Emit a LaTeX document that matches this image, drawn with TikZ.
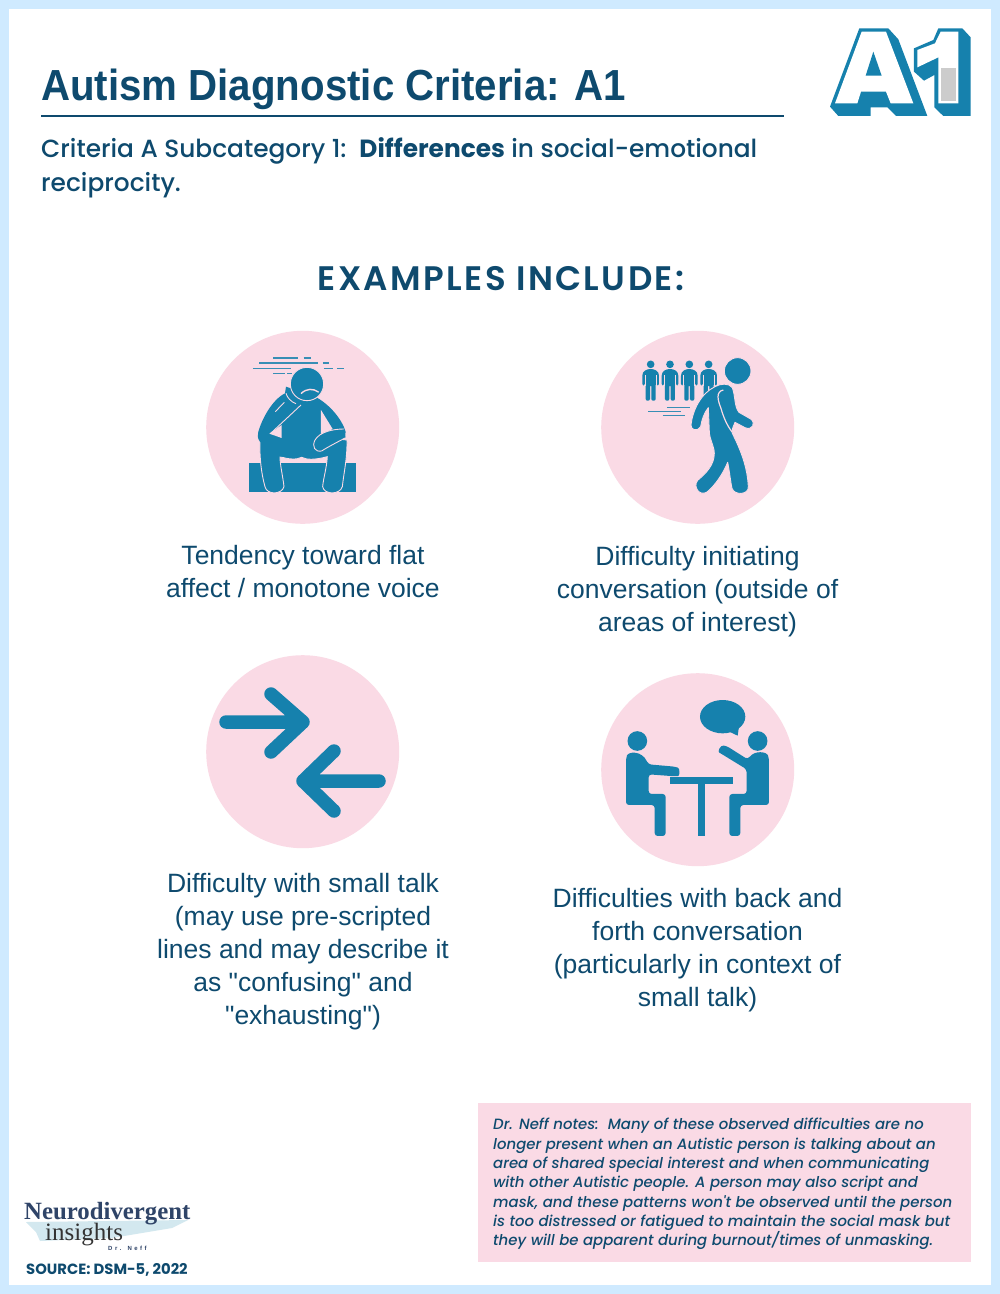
\documentclass[tikz,border=0pt]{standalone}
\usepackage{fontspec}
\setmainfont{Liberation Sans}
\newfontfamily\capf{Liberation Sans}
\newfontfamily\titlef{Liberation Sans}[FakeStretch=0.925]
\newfontfamily\popf{Poppins Medium}[BoldFont={Poppins Bold}]
\newfontfamily\pophead{Poppins SemiBold}[LetterSpace=7]
\newfontfamily\popnote{Poppins Medium Italic}
\newfontfamily\popsrc{Poppins Bold}
\newfontfamily\logof{Liberation Serif}
\definecolor{frame}{HTML}{CFEAFF}
\definecolor{navy}{HTML}{0E4A6E}
\definecolor{iconblue}{HTML}{1681AD}
\definecolor{pinkc}{HTML}{FADAE5}
\definecolor{brush}{HTML}{D3E8EF}
\definecolor{logonavy}{HTML}{2F4468}
\tikzset{
  x=1pt,y=-1pt,
  icon/.style={fill=iconblue,draw=none},
  cutline/.style={draw=pinkc,line width=.9pt,line join=round},
  cutfill/.style={fill=pinkc,draw=none},
  caption/.style={text=navy,align=center,inner sep=0pt,font=\capf\fontsize{26.5}{33}\selectfont},
  speed/.style={draw=iconblue,line width=1.2pt,opacity=.85},
  zoomed/.style={x=.3333pt,y=-.3333pt},
  disc/.style={fill=pinkc,draw=none},
}
\begin{document}
\begin{tikzpicture}
\useasboundingbox (0,0) rectangle (1000,1294);
\fill[frame] (0,0) rectangle (1000,1294);
\fill[white] (9,9) rectangle (991,1285);

% header
\node[anchor=base west,inner sep=0pt,text=navy,font=\titlef\fontsize{43.5}{44}\selectfont\bfseries] (title) at (41,100) {Autism Diagnostic Criteria: A1};
\coordinate (ruleL) at (41,116);
\coordinate (ruleR) at (784,116);
\draw[navy,line width=1.6pt] (ruleL) -- (ruleR);
\node[anchor=base west,inner sep=0pt,text=navy,font=\popf\fontsize{24.85}{24}\selectfont] (sub1) at (41,157) {Criteria A Subcategory 1:\ \ \textbf{Differences} in social-emotional};
\node[anchor=base west,inner sep=0pt,text=navy,font=\popf\fontsize{24.85}{24}\selectfont] (sub2) at (41,191) {reciprocity.};
\node[anchor=base,inner sep=0pt,text=navy,font=\pophead\fontsize{34}{34}\selectfont] (examples) at (501,290) {EXAMPLES INCLUDE:};

% A1 badge
\begin{scope}[shift={(800,10)},zoomed]
\fill[iconblue] (90,290)--(178,55)--(265,55)--(295,88)--(382,318)--(288,318)--(262,292)--(212,292)--(212,318)--(115,318)--cycle;
\fill[white] (105,280)--(185,65)--(258,65)--(340,280)--(272,280)--(258,245)--(183,245)--(172,280)--cycle;
\fill[iconblue] (220,125)--(197,197)--(245,197)--cycle;
\fill[iconblue] (342,115)--(400,90)--(415,55)--(487,55)--(512,82)--(512,318)--(430,318)--(403,292)--(403,195)--(372,212)--(342,185)--cycle;
\fill[white] (352,120)--(405,100)--(422,65)--(475,65)--(475,280)--(415,280)--(415,142)--(352,172)--cycle;
\fill[black!20] (422,173) rectangle (467,273);
\end{scope}

% discs
\fill[disc] (302.7,427.3) circle (96.5);
\fill[disc] (697.7,427.3) circle (96.5);
\fill[disc] (302.7,751.7) circle (96.5);
\fill[disc] (697.7,769.7) circle (96.5);

% icon 1: seated figure
\begin{scope}[shift={(200,325)},zoomed]
\fill[icon] (147,414) rectangle (469,500);
% legs and hips
\draw[cutline,fill=iconblue] (180,345) .. controls (178,400) and (185,450) .. (195,485) .. controls (200,510) and (245,510) .. (252,485) .. controls (248,450) and (240,420) .. (240,395) .. controls (265,403) and (290,405) .. (305,397) .. controls (320,405) and (345,405) .. (382,395) .. controls (380,430) and (370,460) .. (368,485) .. controls (372,510) and (420,510) .. (427,485) .. controls (432,440) and (442,400) .. (441,345) -- (300,330) -- cycle;
% torso and arms
\fill[icon] (175,320) .. controls (185,285) and (215,225) .. (255,205) -- (258,185) -- (345,215) .. controls (385,235) and (425,280) .. (437,320) .. controls (440,340) and (420,345) .. (400,352) -- (345,390) -- (240,395) -- (180,350) .. controls (172,340) and (172,330) .. (175,320) -- cycle;
\fill[cutfill] (208,326) -- (245,300) -- (245,339) -- cycle;
\fill[cutfill] (363,255) -- (398,312) -- (363,330) -- cycle;
% right hand on the knee
\draw[cutline,fill=iconblue] (432,312) .. controls (400,312) and (360,320) .. (345,345) .. controls (335,365) and (345,382) .. (365,378) .. controls (385,365) and (415,350) .. (437,338);
% forearm seams
\draw[cutline] (226,260) -- (253,232);
\draw[cutline] (211,326) -- (303,240);
\draw[cutline] (258,205) .. controls (262,218) and (272,230) .. (288,236);
\draw[cutline,fill=iconblue] (321,177) circle (50);
\draw[cutline,line width=1.4pt,line cap=round] (304,205) .. controls (320,190) and (340,190) .. (355,201);
\draw[speed] (220,99)--(293,99) (311,99)--(332,99);
\draw[speed] (178,114)--(355,114) (369,114)--(387,114);
\draw[speed] (159,130)--(272,130) (372,130)--(398,130) (411,130)--(432,130);
\draw[speed] (220,146)--(254,146) (262,146)--(275,146);
\end{scope}

% icon 2: walker and group
\begin{scope}[shift={(595,325)},zoomed]
\foreach \px in {167,225,283,341}{
  \fill[icon] (\px,118) circle (11.5);
  \fill[icon] (\px-25,177) -- (\px-25,152) .. controls (\px-25,138) and (\px-12,132) .. (\px,132) .. controls (\px+12,132) and (\px+25,138) .. (\px+25,152) -- (\px+25,177) .. controls (\px+25,183) and (\px+18,183) .. (\px+18,177) -- (\px+15,180) -- (\px+15,222) .. controls (\px+15,229) and (\px+2,229) .. (\px+2,222) -- (\px+2,183) -- (\px-2,183) -- (\px-2,222) .. controls (\px-2,229) and (\px-15,229) .. (\px-15,222) -- (\px-15,180) -- (\px-18,177) .. controls (\px-18,183) and (\px-25,183) .. (\px-25,177) -- cycle;
  \draw[pinkc,line width=.9pt] (\px-16.5,150) -- (\px-16.5,182) (\px+16.5,150) -- (\px+16.5,182);
}
\draw[speed] (216,248)--(285,248);
\draw[speed] (159,260)--(259,260);
\draw[speed] (203,271)--(271,271);
\draw[draw=pinkc,line width=.9pt,fill=iconblue,line join=round] (288,300) .. controls (293,255) and (318,205) .. (360,185) .. controls (375,176) and (402,173) .. (412,188) .. controls (422,215) and (417,243) .. (432,262) -- (467,282) .. controls (484,294) and (472,318) .. (450,308) -- (420,292) .. controls (417,302) and (409,312) .. (412,325) .. controls (437,375) and (457,425) .. (460,485) .. controls (462,510) and (418,512) .. (411,490) .. controls (406,465) and (403,435) .. (398,412) .. controls (385,445) and (360,482) .. (335,502) .. controls (313,514) and (293,485) .. (308,466) .. controls (333,445) and (358,420) .. (358,385) .. controls (358,365) and (343,340) .. (343,320) -- (340,248) .. controls (328,262) and (320,285) .. (317,305) .. controls (307,322) and (286,314) .. (288,300) -- cycle;
\draw[draw=pinkc,line width=.9pt,fill=iconblue] (428,138) circle (40);
\draw[cutline,line width=1.2pt] (385,195) .. controls (362,200) and (368,225) .. (378,250) .. controls (385,275) and (395,300) .. (412,322);
\end{scope}

% icon 3: opposing arrows
\draw[iconblue,line width=13.5pt,line cap=round,line join=round] (226,722) -- (300,722) (271,694) -- (303,722) -- (271,752);
\draw[iconblue,line width=13.5pt,line cap=round,line join=round] (379,781) -- (305,781) (334,751) -- (303,781) -- (334,811);

% icon 4: conversation
\begin{scope}[shift={(595,670)},zoomed]
\fill[icon] (127,213) circle (29.5);
\fill[icon] (488,213) circle (29.5);
\fill[icon,rounded corners=3pt] (93,405) -- (93,265) .. controls (100,245) and (140,240) .. (160,283) -- (240,290) .. controls (255,295) and (255,318) .. (240,319) -- (161,313) -- (161,372) -- (212,372) -- (212,498) -- (179,498) -- (179,405) -- cycle;
\fill[icon,rounded corners=3pt] (522,405) -- (522,265) .. controls (515,245) and (480,240) .. (458,268) -- (395,228) .. controls (375,225) and (368,245) .. (380,252) -- (455,298) -- (455,372) -- (403,372) -- (403,498) -- (436,498) -- (436,405) -- cycle;
\fill[icon] (225,321) rectangle (413,343);
\fill[icon] (309,343) rectangle (329,498);
\fill[icon] (383,140) ellipse [x radius=68,y radius=50];
\fill[icon] (405,186) -- (428,197) -- (432,170) -- cycle;
\end{scope}

% captions
\node[caption] (cap1) at (303,572) {Tendency toward flat\\affect / monotone voice};
\node[caption] (cap2) at (697.5,592) {Difficulty initiating\\conversation (outside of\\areas of interest)};
\node[caption] (cap3) at (303,952) {Difficulty with small talk\\(may use pre-scripted\\lines and may describe it\\as "confusing" and\\"exhausting")};
\node[caption] (cap4) at (697.5,950) {Difficulties with back and\\forth conversation\\(particularly in context of\\small talk)};

% note
\fill[pinkc] (478,1103) rectangle (971,1262);
\node[anchor=north west,inner sep=0pt,text=navy,align=left,font=\popnote\fontsize{14.9}{19.35}\selectfont] (note) at (493,1118) {Dr. Neff notes:\ \ Many of these observed difficulties are no\\longer present when an Autistic person is talking about an\\area of shared special interest and when communicating\\with other Autistic people. A person may also script and\\mask, and these patterns won't be observed until the person\\is too distressed or fatigued to maintain the social mask but\\they will be apparent during burnout/times of unmasking.};

% logo
\fill[brush] (26,1222) -- (188,1220) -- (172,1228) -- (112,1238) -- (40,1241) -- (36,1232) -- cycle;
\node[anchor=base west,inner sep=0pt,text=logonavy,font=\logof\bfseries\fontsize{24.8}{25}\selectfont] (neuro) at (24,1219) {Neurodivergent};
\node[anchor=base west,inner sep=0pt,text=black!80,font=\logof\fontsize{25}{25}\selectfont] (insights) at (45,1240) {insights};
\node[anchor=base west,inner sep=0pt,text=logonavy,font=\bfseries\fontsize{6}{6}\selectfont] (drneff) at (108,1250.5) {D\hspace{2.5pt}r\hspace{2.5pt}.\hspace{6pt}N\hspace{2.5pt}e\hspace{2.5pt}f\hspace{2.5pt}f};
\node[anchor=base west,inner sep=0pt,text=navy,font=\popsrc\fontsize{14.8}{15}\selectfont] (source) at (26,1274) {SOURCE: DSM-5, 2022};
\end{tikzpicture}
\end{document}
